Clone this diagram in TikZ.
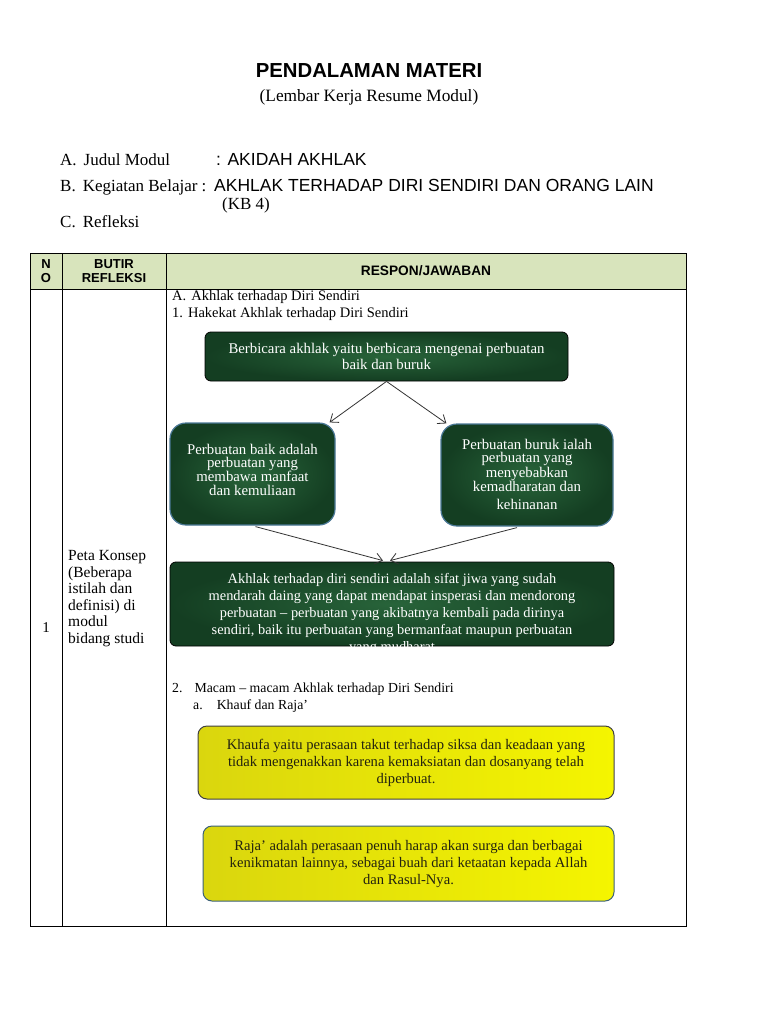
\documentclass[tikz,border=0pt]{standalone}
\usepackage{fontspec}
\setmainfont{Liberation Serif}
\setsansfont{Liberation Sans}
\usepackage{xcolor}
\usepackage{tikz}
\usetikzlibrary{arrows.meta, positioning, calc}
\definecolor{headgreen}{RGB}{216, 228, 188}
\definecolor{marblegreen}{RGB}{40, 100, 58}
\definecolor{marbledark}{RGB}{20, 62, 34}
\definecolor{edgeblue}{RGB}{74, 120, 150}
\definecolor{yellowbright}{RGB}{245, 245, 0}
\definecolor{yellowolive}{RGB}{218, 214, 14}
\definecolor{textdark}{RGB}{35, 35, 15}

\tikzset{
    greenbox/.style={draw=black, line width=0.8pt, rounded corners=6pt,
        inner color=marblegreen, outer color=marbledark,
        text=white, align=center, inner sep=0pt},
    greenround/.style={greenbox, draw=edgeblue, line width=1.2pt, rounded corners=16pt},
    yellowbox/.style={draw=black!75, line width=1pt, rounded corners=9pt,
        left color=yellowolive, right color=yellowbright,
        text=textdark, align=center, inner sep=0pt},
    tline/.style={line width=0.7pt},
    link/.style={-{Straight Barb[length=7pt, width=11pt]}, line width=0.8pt, black!80},
    plain/.style={anchor=base west, font=\fontsize{14.5}{17}\selectfont},
    listtext/.style={anchor=base west, font=\fontsize{17}{19}\selectfont, inner xsep=0pt},
}

\begin{document}
\begin{tikzpicture}[x=1pt, y=-1pt]
    \useasboundingbox[fill=white] (0,0) rectangle (768,1024);

    % heading
    \node[font=\sffamily\bfseries\fontsize{20.3}{22}\selectfont] (title) at (369,71) {PENDALAMAN MATERI};
    \node[font=\fontsize{17.3}{19}\selectfont] (subtitle) at (369,97) {(Lembar Kerja Resume Modul)};

    \node[listtext] (itemA) at (60,166) {A.\hspace{7pt}Judul Modul};
    \node[listtext, font=\sffamily\fontsize{17.5}{20}\selectfont] (valA) at (216,166) {: AKIDAH AKHLAK};
    \node[listtext] (itemB) at (60,192) {B.\hspace{7pt}Kegiatan Belajar :};
    \node[listtext, font=\sffamily\fontsize{17.5}{20}\selectfont] (valB) at (214,192) {AKHLAK TERHADAP DIRI SENDIRI DAN ORANG LAIN};
    \node[listtext] (kb) at (222,210) {(KB 4)};
    \node[listtext] (itemC) at (60,228) {C.\hspace{7pt}Refleksi};

    % table
    \fill[headgreen] (30,253) rectangle (686,289);
    \draw[tline] (30,253) rectangle (686,926);
    \draw[tline] (30,289) -- (686,289);
    \draw[tline] (62,253) -- (62,926);
    \draw[tline] (166,253) -- (166,926);

    \node[font=\sffamily\bfseries\fontsize{13}{14.5}\selectfont, align=center] (hno) at (46,271) {N\\O};
    \node[font=\sffamily\bfseries\fontsize{13}{14.5}\selectfont, align=center] (hbutir) at (114,271) {BUTIR\\REFLEKSI};
    \node[font=\sffamily\bfseries\fontsize{13.7}{15}\selectfont] (hrespon) at (426,271) {RESPON/JAWABAN};

    \node[font=\fontsize{15}{16}\selectfont] (num) at (46,628) {1};
    \node[anchor=north west, align=left, font=\fontsize{15.5}{16.5}\selectfont, inner xsep=0pt] (butir) at (68,547)
        {Peta Konsep\\(Beberapa\\istilah dan\\definisi) di\\modul\\bidang studi};

    % response column
    \node[plain, inner xsep=0pt] (secA) at (172,300) {A.\hspace{5pt}Akhlak terhadap Diri Sendiri};
    \node[plain, inner xsep=0pt] (secA1) at (172,317) {1.\hspace{5pt}Hakekat Akhlak terhadap Diri Sendiri};

    \node[greenbox, minimum width=363pt, minimum height=49pt, font=\fontsize{14.8}{16}\selectfont] (topbox) at (386.5,356.5)
        {Berbicara akhlak yaitu berbicara mengenai perbuatan\\baik dan buruk};
    \node[greenround, minimum width=165pt, minimum height=102pt] (lbox) at (252.5,474) {};
    \node[text=white, align=center, font=\fontsize{14.8}{14}\selectfont] (ltext) at (252.5,470)
        {Perbuatan baik adalah\\[-0.5pt]perbuatan yang\\membawa manfaat\\dan kemuliaan};
    \node[greenround, minimum width=172pt, minimum height=102pt] (rbox) at (527,475) {};
    \node[text=white, align=center, font=\fontsize{14.8}{14.5}\selectfont] (rtext) at (527,474)
        {Perbuatan buruk ialah\\[-1pt]perbuatan yang\\menyebabkan\\kemadharatan dan\\[3pt]kehinanan};
    \node[greenbox, minimum width=444pt, minimum height=84pt] (bbox) at (392,604) {};
    \begin{scope}
        \clip[rounded corners=6pt] (bbox.south west) rectangle (bbox.north east);
        \node[text=white, align=center, font=\fontsize{14.4}{17}\selectfont] (btext) at (392,614)
            {Akhlak terhadap diri sendiri adalah sifat jiwa yang sudah\\mendarah daing yang dapat mendapat insperasi dan mendorong\\perbuatan -- perbuatan yang akibatnya kembali pada dirinya\\sendiri, baik itu perbuatan yang bermanfaat maupun perbuatan\\yang mudharat};
    \end{scope}

    \draw[link] (topbox.south) -- ($(lbox.north east)+(-6,0)$);
    \draw[link] (topbox.south) -- ($(rbox.north west)+(6,0)$);
    \draw[link] ($(lbox.south)+(3,1)$) -- ($(bbox.north)+(-9,-1)$);
    \draw[link] ($(rbox.south)+(-10,1)$) -- ($(bbox.north)+(-2,-1)$);

    \node[anchor=base west, font=\fontsize{13.8}{16}\selectfont, inner xsep=0pt] (secB) at (172,692) {2.\hspace{12pt}Macam -- macam Akhlak terhadap Diri Sendiri};
    \node[anchor=base west, font=\fontsize{13.8}{16}\selectfont, inner xsep=0pt] (secBa) at (193,709) {a.\hspace{14pt}Khauf dan Raja'};

    \node[yellowbox, minimum width=416pt, minimum height=73pt, font=\fontsize{14.6}{17}\selectfont] (khauf) at (406,762.5)
        {Khaufa yaitu perasaan takut terhadap siksa dan keadaan yang\\tidak mengenakkan karena kemaksiatan dan dosanyang telah\\diperbuat.};
    \node[yellowbox, draw=edgeblue!80!black, minimum width=411pt, minimum height=75pt, font=\fontsize{14.6}{17}\selectfont] (raja) at (408.5,863.5)
        {Raja' adalah perasaan penuh harap akan surga dan berbagai\\kenikmatan lainnya, sebagai buah dari ketaatan kepada Allah\\dan Rasul-Nya.};
\end{tikzpicture}
\end{document}
